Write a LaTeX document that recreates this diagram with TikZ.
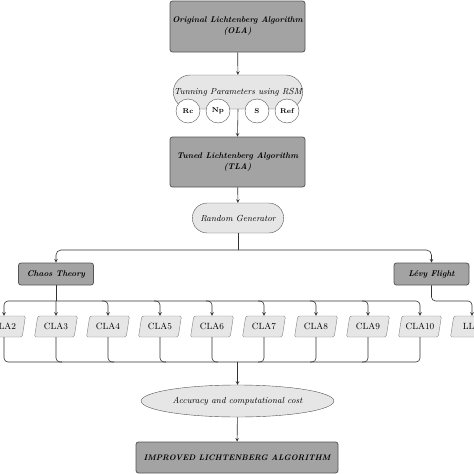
\documentclass[tikz,border=0pt]{standalone}
\usetikzlibrary{shapes.geometric,shapes.misc}
\definecolor{darkbox}{HTML}{A3A3A3}
\definecolor{lightbox}{HTML}{E6E6E6}
\definecolor{edgegray}{HTML}{555555}
\definecolor{linegray}{HTML}{333333}
\begin{document}
\begin{tikzpicture}[x=1pt, y=-1pt, >=stealth,
        dark/.style={draw=edgegray, fill=darkbox, rounded corners=2.5pt, thick, align=center, inner xsep=2pt, font=\fontsize{8.3}{11}\selectfont\bfseries\itshape},
        pill/.style={draw=edgegray, fill=lightbox, rounded rectangle, font=\fontsize{8.8}{11}\selectfont\itshape},
        param/.style={circle, draw=edgegray, fill=white, minimum size=24pt, inner sep=0pt, font=\scriptsize\bfseries},
        cla/.style={trapezium, trapezium left angle=76, trapezium right angle=104, trapezium stretches body, draw=gray, fill=lightbox, rounded corners=1.5pt, minimum width=43pt, minimum height=21pt, inner xsep=1pt, font=\fontsize{9}{11}\selectfont},
        link/.style={draw=linegray, semithick}]
            \clip (0,0) rectangle (474,474);
            \node[dark, minimum width=135pt, minimum height=51pt] (ola) at (237.5,26.5) {Original Lichtenberg Algorithm\\(OLA)};
            \node[pill, minimum width=136pt, minimum height=34pt] (tun) at (238,92) {Tunning Parameters using RSM};
            \node[param] (rc) at (188,111) {Rc};
            \node[param] (np) at (218,111) {Np};
            \node[param] (s) at (257,111) {S};
            \node[param] (ref) at (287,111) {Ref};
            \node[dark, minimum width=135pt, minimum height=50pt] (tla) at (237.5,162) {Tuned Lichtenberg Algorithm\\(TLA)};
            \node[pill, minimum width=98pt, minimum height=30pt] (rnd) at (238,218) {Random Generator};
            \node[dark, minimum width=75pt, minimum height=22pt] (chaos) at (56,274) {Chaos Theory};
            \node[dark, minimum width=75pt, minimum height=22pt] (levy) at (431.5,274) {L\'evy Flight};
            \node[cla] (cla2) at (4,326.5) {CLA2};
            \node[cla] (cla3) at (56,326.5) {CLA3};
            \node[cla] (cla4) at (108,326.5) {CLA4};
            \node[cla] (cla5) at (160,326.5) {CLA5};
            \node[cla] (cla6) at (212,326.5) {CLA6};
            \node[cla] (cla7) at (264,326.5) {CLA7};
            \node[cla] (cla8) at (316,326.5) {CLA8};
            \node[cla] (cla9) at (368,326.5) {CLA9};
            \node[cla] (cla10) at (420,326.5) {CLA10};
            \node[cla] (lla) at (472,326.5) {LLA};
            \node[pill, shape=ellipse, minimum width=151pt, minimum height=32pt] (acc) at (237.5,401) {Accuracy and computational cost};
            \node[dark, minimum width=202pt, minimum height=31pt, font=\fontsize{8}{10}\selectfont\bfseries\itshape] (ila) at (237,457.5) {IMPROVED LICHTENBERG ALGORITHM};
            \coordinate (split) at (238,250);
            \coordinate (fork) at (56,301);
            \coordinate (join) at (237.5,362);
            \draw[link, ->] (ola) -- (tun);
            \draw[link, ->] (tun.south) -- (tla.north);
            \draw[link, ->] (tla) -- (rnd);
            \draw[link, <->, rounded corners=5pt] (chaos.north) |- (split) -| (levy.north);
            \draw[link] (rnd.south) -- (split);
            \draw[link] (chaos.south) -- (fork);
            \draw[link, <->, rounded corners=4pt] (cla2.north) |- (fork) -| (cla10.north);
            \draw[link, ->] (fork) -- (cla3.north);
            \draw[link, ->, rounded corners=4pt] ([xshift=-6pt]cla4.north |- fork) -| (cla4.north);
            \draw[link, ->, rounded corners=4pt] ([xshift=-6pt]cla5.north |- fork) -| (cla5.north);
            \draw[link, ->, rounded corners=4pt] ([xshift=-6pt]cla6.north |- fork) -| (cla6.north);
            \draw[link, ->, rounded corners=4pt] ([xshift=-6pt]cla7.north |- fork) -| (cla7.north);
            \draw[link, ->, rounded corners=4pt] ([xshift=-6pt]cla8.north |- fork) -| (cla8.north);
            \draw[link, ->, rounded corners=4pt] ([xshift=-6pt]cla9.north |- fork) -| (cla9.north);
            \draw[link, ->, rounded corners=4pt] (levy.south) |- (lla.north |- fork) -- (lla.north);
            \draw[link, rounded corners=4pt] (cla2.south) |- (join) -| (cla10.south);
            \draw[link, rounded corners=4pt] (cla3.south) |- ([xshift=6pt]cla3.south |- join);
            \draw[link, rounded corners=4pt] (cla4.south) |- ([xshift=6pt]cla4.south |- join);
            \draw[link, rounded corners=4pt] (cla5.south) |- ([xshift=6pt]cla5.south |- join);
            \draw[link, rounded corners=4pt] (cla6.south) |- ([xshift=6pt]cla6.south |- join);
            \draw[link, rounded corners=4pt] (cla7.south) |- ([xshift=-6pt]cla7.south |- join);
            \draw[link, rounded corners=4pt] (cla8.south) |- ([xshift=-6pt]cla8.south |- join);
            \draw[link, rounded corners=4pt] (cla9.south) |- ([xshift=-6pt]cla9.south |- join);
            \draw[link, ->] (join) -- (acc.north);
            \draw[link, ->] (acc) -- (ila);
        \end{tikzpicture}
\end{document}
